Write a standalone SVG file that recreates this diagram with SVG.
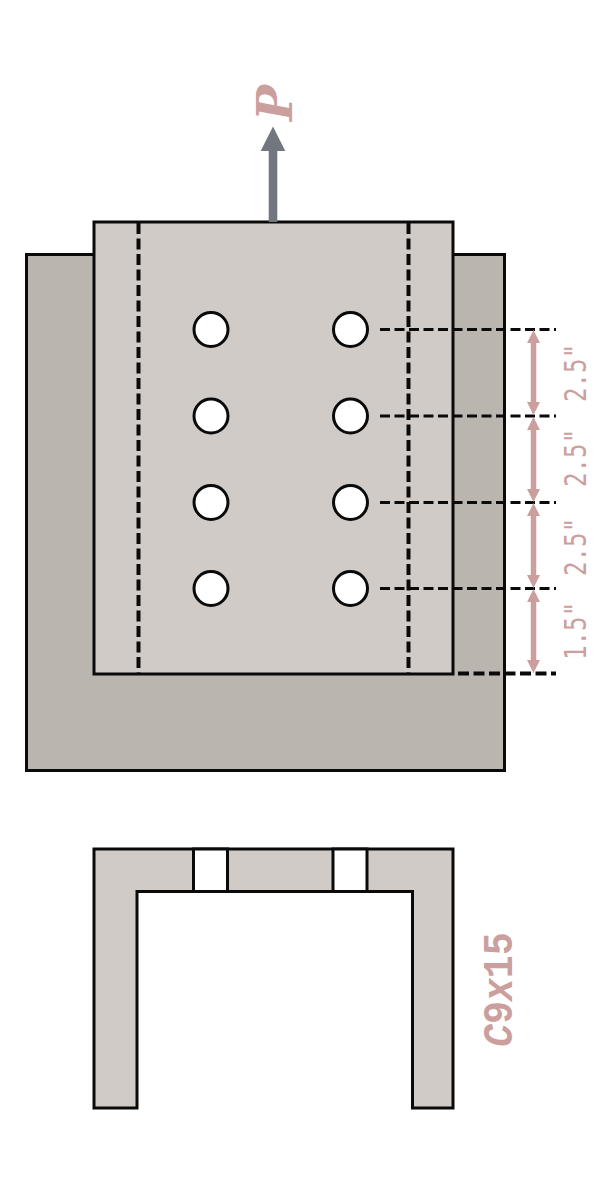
<svg xmlns="http://www.w3.org/2000/svg" width="613" height="1191" viewBox="0 0 613 1191">
<defs>
<style>
.plate{fill:#d0cbc6;stroke:#0a0a0a;stroke-width:3}
.back{fill:#bab5af;stroke:#0a0a0a;stroke-width:3}
.hole{fill:#fff;stroke:#0a0a0a;stroke-width:3}
.dash{fill:none;stroke:#0a0a0a;stroke-width:3;stroke-dasharray:10 4.500}
.dashb{fill:none;stroke:#0a0a0a;stroke-width:4;stroke-dasharray:11 4.500}
.dim{fill:none;stroke:#cc9f9f;stroke-width:5.500}
.head{fill:#cc9f9f}
.lab{fill:#cc9f9f;font-family:"DejaVu Sans Mono","Liberation Mono",monospace;font-size:31px}
.bold{fill:#cc9f9f;font-family:"DejaVu Serif","Liberation Serif",serif;font-weight:bold;font-style:italic}
.mono{fill:#cc9f9f;font-family:"Liberation Mono","DejaVu Sans Mono",monospace;font-weight:bold}
</style>
</defs>
<rect width="613" height="1191" fill="#fff"/>
<g id="channel-back"><rect class="back" x="26.500" y="254.500" width="478" height="516"/></g>
<g id="plate">
<rect class="plate" x="94" y="222" width="359" height="452"/>
<path class="dashb" d="M138.500 223V673M408.500 223V673"/>
</g>
<g id="holes">
<circle class="hole" cx="211" cy="329.500" r="17"/><circle class="hole" cx="350.500" cy="329.500" r="17"/>
<circle class="hole" cx="211" cy="416" r="17"/><circle class="hole" cx="350.500" cy="416" r="17"/>
<circle class="hole" cx="211" cy="502.500" r="17"/><circle class="hole" cx="350.500" cy="502.500" r="17"/>
<circle class="hole" cx="211" cy="588.500" r="17"/><circle class="hole" cx="350.500" cy="588.500" r="17"/>
</g>
<g id="section">
<path class="plate" d="M94 849H453V1108H412.500V891.500H137V1108H94Z"/>
<rect class="hole" x="193.500" y="849" width="34" height="42.500"/>
<rect class="hole" x="333" y="849" width="34" height="42.500"/>
</g>
<g id="connectors">
<path class="dash" d="M380 329.500H556M380 416H556M380 502.500H556M380 588.500H556"/>
<path class="dashb" d="M458 673.500H556"/>
<path class="dim" d="M533.500 340V405M533.500 427V492M533.500 513V578M533.500 599V663"/>
<path class="head" d="M533.500 330l6.500 13h-13zM533.500 415l6.500 -13h-13zM533.500 417l6.500 13h-13zM533.500 502l6.500 -13h-13zM533.500 503l6.500 13h-13zM533.500 588l6.500 -13h-13zM533.500 589l6.500 13h-13zM533.500 673l6.500 -13h-13z"/>
<path d="M268.700 222V150H277.300V222Z" fill="#72767f"/>
<path d="M273 126.500L285.300 151H260.700Z" fill="#72767f"/>
</g>
<g id="labels">
<text class="lab" transform="translate(586 402) rotate(-90) scale(.78 1)">2.5"</text>
<text class="lab" transform="translate(586 487) rotate(-90) scale(.78 1)">2.5"</text>
<text class="lab" transform="translate(586 576) rotate(-90) scale(.78 1)">2.5"</text>
<text class="lab" transform="translate(586 660) rotate(-90) scale(.78 1)">1.5"</text>
<text class="bold" font-size="48" transform="translate(292 121) rotate(-90)">P</text>
<text class="mono" font-size="42" transform="translate(512 1047) rotate(-90) scale(.91 1)"><tspan font-style="italic">C</tspan>9<tspan font-style="italic">x</tspan>15</text>
</g>
</svg>
